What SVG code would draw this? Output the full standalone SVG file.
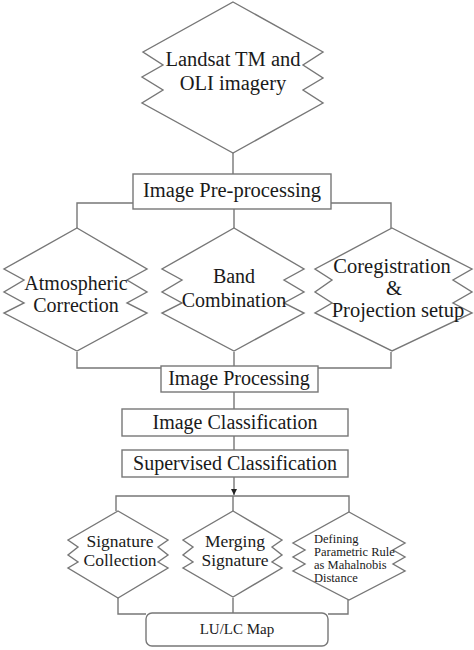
<svg xmlns="http://www.w3.org/2000/svg" width="474" height="650" viewBox="0 0 474 650">
<defs>
<style>
.s{fill:#fff;stroke:#777;stroke-width:1.4}
.c{fill:none;stroke:#777;stroke-width:1.4}
</style>
<marker id="ah" markerWidth="8" markerHeight="8" refX="6" refY="3" orient="auto" markerUnits="userSpaceOnUse">
<path d="M0,0 L6,3 L0,6 Z" fill="#222"/>
</marker>
</defs>
<rect width="474" height="650" fill="#fff"/>
<g id="connectors">
<path class="c" d="M233,153 V174"/>
<path class="c" d="M133,203 H77 V228 M331,203 H391 V228 M234,209 V228"/>
<path class="c" d="M77,352 V368 H161 M391,352 V368 H318 M234,352 V366"/>
<path class="c" d="M234,392 V409 M234,436 V450"/>
<path class="c" d="M234,477 V495" marker-end="url(#ah)"/>
<path class="c" d="M116,511 V496 H349 V512 M233,496 V511"/>
<path class="c" d="M118,598 V614 H146 M348,600 V614 H328 M233,598 V613"/>
</g>
<g fill="#1a1a1a" text-anchor="middle">
<g id="n1">
<path class="s" d="M233,2 L323,52 L303,65 L323,78 L303,90 L323,103 L233,153 L142,103 L163,90 L142,77 L163,65 L143,52 Z"/>
<text font-family="Liberation Serif" font-size="20.5" x="233" y="66">Landsat TM and</text>
<text font-family="Liberation Serif" font-size="20.5" x="233" y="90">OLI imagery</text>
</g>
<g id="n2">
<rect class="s" x="133" y="174" width="198" height="35"/>
<text font-family="Liberation Serif" font-size="20.5" x="232" y="197">Image Pre-processing</text>
</g>
<g id="n3">
<path class="s" d="M77,228 L147,269 L127,280 L147,292 L127,303 L147,313 L77,351 L4,313 L24,303 L4,292 L24,280 L4,269 Z"/>
<text font-family="Liberation Serif" font-size="20" x="76" y="290">Atmospheric</text>
<text font-family="Liberation Serif" font-size="20" x="76" y="312">Correction</text>
</g>
<g id="n4">
<path class="s" d="M234,228 L304,269 L284,280 L304,292 L284,303 L304,313 L234,351 L162,313 L182,303 L162,292 L182,280 L162,269 Z"/>
<text font-family="Liberation Serif" font-size="20" x="234" y="283">Band</text>
<text font-family="Liberation Serif" font-size="20" x="234" y="307">Combination</text>
</g>
<g id="n5">
<path class="s" d="M392,228 L472,269 L453,280 L472,292 L453,303 L472,313 L392,351 L315,313 L332,303 L315,292 L332,280 L315,269 Z"/>
<text font-family="Liberation Serif" font-size="20.5" x="392" y="273">Coregistration</text>
<text font-family="Liberation Serif" font-size="20.5" x="394" y="295">&amp;</text>
<text font-family="Liberation Serif" font-size="20.5" x="398" y="317">Projection setup</text>
</g>
<g id="n6">
<rect class="s" x="161" y="366" width="157" height="26"/>
<text font-family="Liberation Serif" font-size="20" x="239" y="385">Image Processing</text>
</g>
<g id="n7">
<rect class="s" x="122" y="409" width="226" height="27"/>
<text font-family="Liberation Serif" font-size="20" x="235" y="429">Image Classification</text>
</g>
<g id="n8">
<rect class="s" x="122" y="450" width="226" height="27"/>
<text font-family="Liberation Serif" font-size="20" x="235" y="470">Supervised Classification</text>
</g>
<g id="n9">
<path class="s" d="M118,511 L168,540 L158,547 L168,555 L158,562 L168,568 L118,598 L68,568 L78,562 L68,555 L78,547 L68,540 Z"/>
<text font-family="Liberation Serif" font-size="17.5" x="120" y="547">Signature</text>
<text font-family="Liberation Serif" font-size="17.5" x="120" y="566">Collection</text>
</g>
<g id="n10">
<path class="s" d="M233,511 L282,540 L272,547 L282,555 L272,562 L282,568 L233,597 L183,568 L193,562 L183,555 L193,547 L183,540 Z"/>
<text font-family="Liberation Serif" font-size="17.5" x="235" y="547">Merging</text>
<text font-family="Liberation Serif" font-size="17.5" x="235" y="566">Signature</text>
</g>
<g id="n11" text-anchor="start">
<path class="s" d="M349,512 L405,543 L393,550 L405,557 L393,564 L405,571 L349,600 L293,571 L305,564 L293,557 L305,550 L293,543 Z"/>
<text font-family="Liberation Serif" font-size="12.5" x="314" y="543">Defining</text>
<text font-family="Liberation Serif" font-size="12.5" x="314" y="556">Parametric Rule</text>
<text font-family="Liberation Serif" font-size="12.5" x="314" y="569">as Mahalnobis</text>
<text font-family="Liberation Serif" font-size="12.5" x="314" y="582">Distance</text>
</g>
<g id="n12">
<rect class="s" x="146" y="613" width="182" height="33" rx="6"/>
<text font-family="Liberation Serif" font-size="15" x="237" y="634">LU/LC Map</text>
</g>
</g>
</svg>
